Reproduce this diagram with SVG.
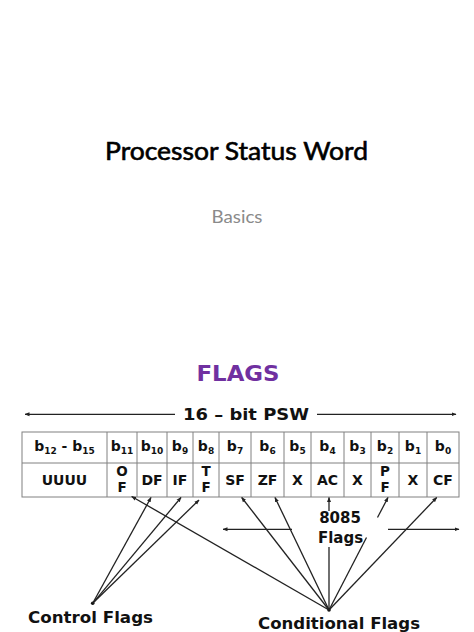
<svg xmlns="http://www.w3.org/2000/svg" width="474" height="632" viewBox="0 0 474 632">
<defs>
<marker id="ah" viewBox="0 0 10 10" refX="9" refY="5" markerWidth="5" markerHeight="5" orient="auto" markerUnits="userSpaceOnUse">
<path d="M0,1 L10,5 L0,9 z" fill="#222"/>
</marker>
<style>
.t{font-family:"DejaVu Sans",Verdana,sans-serif;font-weight:bold;fill:#111;text-anchor:middle}
.h{font-size:14px}
.s{font-size:9px}
.v{font-size:14px}
.v2{font-size:13.5px}
.cell{fill:#fff;stroke:#808080;stroke-width:1}
.ln{stroke:#222;stroke-width:1.3;fill:none}
.ar{stroke:#222;stroke-width:1.3;fill:none;marker-end:url(#ah)}
.dot{fill:#111}
</style>
</defs>
<rect width="474" height="632" fill="#fff"/>

<g id="title">
<text x="236.5" y="159.5" font-family="Lato,'Open Sans',sans-serif" font-size="25" fill="#000" stroke="#000" stroke-width="0.6" text-anchor="middle" textLength="263" lengthAdjust="spacingAndGlyphs">Processor Status Word</text>
</g>
<g id="subtitle">
<text x="237" y="223.3" font-family="Lato,'Open Sans',sans-serif" font-size="18" fill="#8a8a8a" text-anchor="middle" textLength="51" lengthAdjust="spacingAndGlyphs">Basics</text>
</g>
<g id="flags-heading">
<text x="238" y="380.7" font-family="'DejaVu Sans',sans-serif" font-weight="bold" font-size="22" fill="#7030A0" text-anchor="middle" textLength="83" lengthAdjust="spacingAndGlyphs">FLAGS</text>
</g>

<g id="psw-label">
<text class="t" x="246" y="420" font-size="16" textLength="126" lengthAdjust="spacingAndGlyphs">16 – bit PSW</text>
</g>

<g id="psw-table">
<rect class="cell" x="22" y="432" width="437" height="65"/>
<line class="cell" x1="22" y1="463" x2="459" y2="463"/>
<g stroke="#808080" stroke-width="1">
<line x1="107" y1="432" x2="107" y2="497"/>
<line x1="137" y1="432" x2="137" y2="497"/>
<line x1="167" y1="432" x2="167" y2="497"/>
<line x1="193" y1="432" x2="193" y2="497"/>
<line x1="219" y1="432" x2="219" y2="497"/>
<line x1="251" y1="432" x2="251" y2="497"/>
<line x1="284" y1="432" x2="284" y2="497"/>
<line x1="311" y1="432" x2="311" y2="497"/>
<line x1="344" y1="432" x2="344" y2="497"/>
<line x1="371" y1="432" x2="371" y2="497"/>
<line x1="399" y1="432" x2="399" y2="497"/>
<line x1="427" y1="432" x2="427" y2="497"/>
</g>
<g id="header-row">
<text class="t h" x="64.5" y="450.5">b<tspan class="s" dy="3">12</tspan><tspan dy="-3"> - b</tspan><tspan class="s" dy="3">15</tspan></text>
<text class="t h" x="122" y="450.5">b<tspan class="s" dy="3">11</tspan></text>
<text class="t h" x="152" y="450.5">b<tspan class="s" dy="3">10</tspan></text>
<text class="t h" x="180" y="450.5">b<tspan class="s" dy="3">9</tspan></text>
<text class="t h" x="206" y="450.5">b<tspan class="s" dy="3">8</tspan></text>
<text class="t h" x="235" y="450.5">b<tspan class="s" dy="3">7</tspan></text>
<text class="t h" x="267.5" y="450.5">b<tspan class="s" dy="3">6</tspan></text>
<text class="t h" x="297.5" y="450.5">b<tspan class="s" dy="3">5</tspan></text>
<text class="t h" x="327.5" y="450.5">b<tspan class="s" dy="3">4</tspan></text>
<text class="t h" x="357.5" y="450.5">b<tspan class="s" dy="3">3</tspan></text>
<text class="t h" x="385" y="450.5">b<tspan class="s" dy="3">2</tspan></text>
<text class="t h" x="413" y="450.5">b<tspan class="s" dy="3">1</tspan></text>
<text class="t h" x="443" y="450.5">b<tspan class="s" dy="3">0</tspan></text>
</g>
<g id="flag-row">
<text class="t v" x="64.5" y="485">UUUU</text>
<text class="t v2" x="122" y="476">O</text>
<text class="t v2" x="122" y="492">F</text>
<text class="t v" x="152" y="485">DF</text>
<text class="t v" x="180" y="485">IF</text>
<text class="t v2" x="206" y="476">T</text>
<text class="t v2" x="206" y="492">F</text>
<text class="t v" x="235" y="485">SF</text>
<text class="t v" x="267.5" y="485">ZF</text>
<text class="t v" x="297.5" y="485">X</text>
<text class="t v" x="327.5" y="485">AC</text>
<text class="t v" x="357.5" y="485">X</text>
<text class="t v2" x="385" y="476">P</text>
<text class="t v2" x="385" y="492">F</text>
<text class="t v" x="413" y="485">X</text>
<text class="t v" x="443" y="485">CF</text>
</g>
</g>

<g id="label-8085">
<text class="t" x="340" y="523.3" font-size="15">8085</text>
<text class="t" x="340.5" y="543" font-size="15">Flags</text>
</g>
<g id="label-control">
<text class="t" x="90.5" y="622.5" font-size="15" textLength="125" lengthAdjust="spacingAndGlyphs">Control Flags</text>
<circle class="dot" cx="92.7" cy="603.3" r="1.8"/>
</g>
<g id="label-conditional">
<text class="t" x="339" y="628.7" font-size="15" textLength="162" lengthAdjust="spacingAndGlyphs">Conditional Flags</text>
<circle class="dot" cx="329" cy="610" r="1.8"/>
</g>

<g id="connectors">
<line class="ar" x1="175" y1="414.3" x2="25" y2="414.3"/>
<line class="ar" x1="317" y1="414.3" x2="456" y2="414.3"/>
<line class="ar" x1="292" y1="529.3" x2="223" y2="529.3"/>
<line class="ar" x1="388" y1="529.3" x2="459" y2="529.3"/>
<line class="ar" x1="92.7" y1="603.3" x2="151" y2="497.5"/>
<line class="ar" x1="92.7" y1="603.3" x2="181" y2="497.5"/>
<line class="ar" x1="92.7" y1="603.3" x2="199" y2="500"/>
<line class="ar" x1="329" y1="610" x2="131.7" y2="496.5"/>
<line class="ar" x1="329" y1="610" x2="241.7" y2="497.5"/>
<line class="ar" x1="329" y1="610" x2="275" y2="497.5"/>
<line class="ln" x1="329" y1="610" x2="329" y2="547"/>
<line class="ar" x1="329" y1="511" x2="329" y2="497.5"/>
<line class="ln" x1="329" y1="610" x2="366.5" y2="537.5"/>
<line class="ar" x1="377.5" y1="517.5" x2="388" y2="497.5"/>
<line class="ar" x1="329" y1="610" x2="436.7" y2="497.5"/>
</g>
</svg>
